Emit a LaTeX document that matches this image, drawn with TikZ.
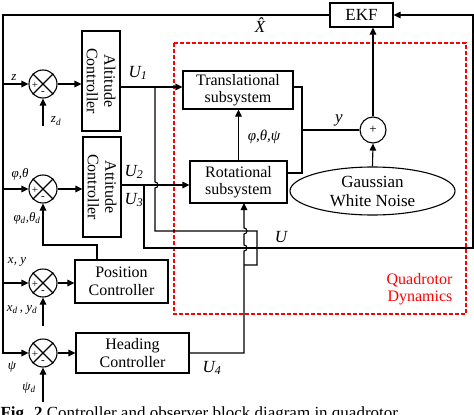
\documentclass[tikz,border=0pt]{standalone}
\usepackage{fontspec}
\setmainfont{Liberation Serif}
\usetikzlibrary{arrows.meta,calc,shapes.geometric}
\begin{document}
\begin{tikzpicture}[x=1pt,y=-1pt, line width=1.1pt,
  blk/.style={draw, line width=1.1pt, inner sep=0pt},
  sumc/.style={draw, circle, minimum size=28pt, inner sep=0pt, line width=1.1pt},
  arr/.style={-{Triangle[length=7pt,width=6.5pt]}},
  lbl/.style={font=\fontsize{17}{17}\selectfont\itshape, inner sep=0pt},
  slbl/.style={font=\fontsize{13}{13}\selectfont\itshape, inner sep=0pt},
  sgn/.style={font=\fontsize{11}{11}\selectfont, inner sep=0pt},
  btxt/.style={font=\fontsize{16}{17.5}\selectfont, align=center, inner sep=0pt}]
\useasboundingbox (0,0) rectangle (474,415);

% red region
\draw[red, line width=1.2pt, dash pattern=on 4pt off 2pt] (174,43) rectangle (466,314);
\node[red, btxt, align=right, anchor=east] (qd) at (453,289) {Quadrotor\\Dynamics};

% blocks
\node[blk, minimum width=38pt, minimum height=100pt] (alt) at (101,81) {};
\node[btxt, rotate=-90] (altT) at (alt) {Altitude\\Controller};
\node[blk, minimum width=38pt, minimum height=100pt] (att) at (102,187) {};
\node[btxt, rotate=-90] (attT) at (att) {Attitude\\Controller};
\node[blk, btxt, minimum width=93pt, minimum height=43pt] (pos) at (121.5,281.5) {Position\\Controller};
\node[blk, btxt, minimum width=113pt, minimum height=40pt] (head) at (132.5,353) {Heading\\Controller};
\node[blk, btxt, minimum width=110pt, minimum height=38pt] (trans) at (238,90) {Translational\\subsystem};
\node[blk, btxt, minimum width=97pt, minimum height=42pt] (rot) at (238.5,182) {Rotational\\subsystem};
\node[blk, btxt, font=\fontsize{17}{17}\selectfont, minimum width=63pt, minimum height=24pt] (ekf) at (361.5,15) {EKF};
\node[draw, ellipse, btxt, font=\fontsize{17}{19}\selectfont, minimum width=165pt, minimum height=48pt, line width=1.1pt] (noise) at (372.5,191) {Gaussian\\White Noise};
\node[sumc, minimum size=26pt] (plus) at (373,130) {};
\node[sgn, font=\fontsize{13}{13}\selectfont] (plusT) at (plus) {+};

% summing junctions
\foreach \n/\yy in {s1/84, s2/189, s3/283, s4/353}{
  \node[sumc] (\n) at (43,\yy) {};
  \draw (\n.45) -- (\n.225) (\n.135) -- (\n.315);
  \node[sgn] (\n p) at ($(\n)+(-8,1)$) {+};
  \node[sgn] (\n m) at ($(\n)+(0,9)$) {-};
}

% left feedback bus
\coordinate (lt) at (3,15);
\draw[arr] (ekf.west) -- (lt) |- (s4.west);
\draw[arr] (lt |- s1) -- (s1.west);
\draw[arr] (lt |- s2) -- (s2.west);
\draw[arr] (lt |- s3) -- (s3.west);

% references
\coordinate (zd) at (43,126);
\draw[arr] (zd) -- (s1.south);
\coordinate (xyd) at (43,326);
\draw[arr] (xyd) -- (s3.south);
\coordinate (psid) at (43,402);
\draw[arr] (psid) -- (s4.south);
\coordinate (pf) at (97,260);
\draw[arr] (pf) -- (97,245) -| (s2.south);

% summer to controllers
\draw[arr] (s1.east) -- (s1.east -| alt.west);
\draw[arr] (s2.east) -- (s2.east -| att.west);
\draw[arr] (s3.east) -- (s3.east -| pos.west);
\draw[arr] (s4.east) -- (s4.east -| head.west);

% U1
\coordinate (u1s) at (120,87);
\draw[arr] (u1s) -- (u1s -| trans.west);
\coordinate (u1b) at (155,87);
\draw (u1b) -- (155,182) arc(-90:90:3) -- (155,231) -- (257,231) -- (257,265) -- (244,265);

% U2, U3
\coordinate (u2s) at (121,185);
\draw[arr] (u2s) -- (u2s -| rot.west);
\coordinate (u3b) at (144,185);
\coordinate (ur) at (473,248);
\draw[arr] (u3b) |- (ur) |- (ekf.east);

% U4
\draw[arr] (head.east) -- (244,353) -- (244,251) arc(90:-90:3) -- (244,234) arc(90:-90:3) -- (244,203);

% rotational to translational
\draw[arr] (rot.north) -- (rot.north |- trans.south);

% translational output
\coordinate (ty) at (302,130);
\draw (trans.east |- u1s) -| (302,173) -- (287,173);
\draw (ty) -- (plus.west);
\draw[arr] (plus.north) -- (plus.north |- ekf.south);
\draw[arr] (noise.north) -- (plus.south);

% labels
\node[slbl] (lz) at (14,78) {z};
\node[slbl] (lzd) at (56,121) {z\textsubscript{d}};
\node[slbl] (lpt) at (20,174) {φ,θ};
\node[slbl] (lptd) at (27,218) {φ\textsubscript{d},θ\textsubscript{d}};
\node[slbl] (lxy) at (17,262) {x, y};
\node[slbl] (lxyd) at (22,310) {x\textsubscript{d}\,, y\textsubscript{d}};
\node[slbl] (lpsi) at (12,367) {ψ};
\node[slbl] (lpsid) at (29,388) {ψ\textsubscript{d}};
\node[lbl] (lu1) at (138,73) {U\textsubscript{1}};
\node[lbl] (lu2) at (134,172) {U\textsubscript{2}};
\node[lbl] (lu3) at (134,200) {U\textsubscript{3}};
\node[lbl] (lu4) at (212,368) {U\textsubscript{4}};
\node[lbl] (lu) at (281,237) {U};
\node[lbl] (ly) at (339,120) {y};
\node[lbl, font=\fontsize{15}{15}\selectfont\itshape] (lang) at (264,137) {φ,θ,ψ};
\node[lbl] (lx) at (260,25) {\^{X}};

% caption
\node[anchor=base west, inner sep=0pt, font=\fontsize{17}{17}\selectfont] (cap) at (0,418) {\textbf{Fig. 2} Controller and observer block diagram in quadrotor};
\end{tikzpicture}
\end{document}
